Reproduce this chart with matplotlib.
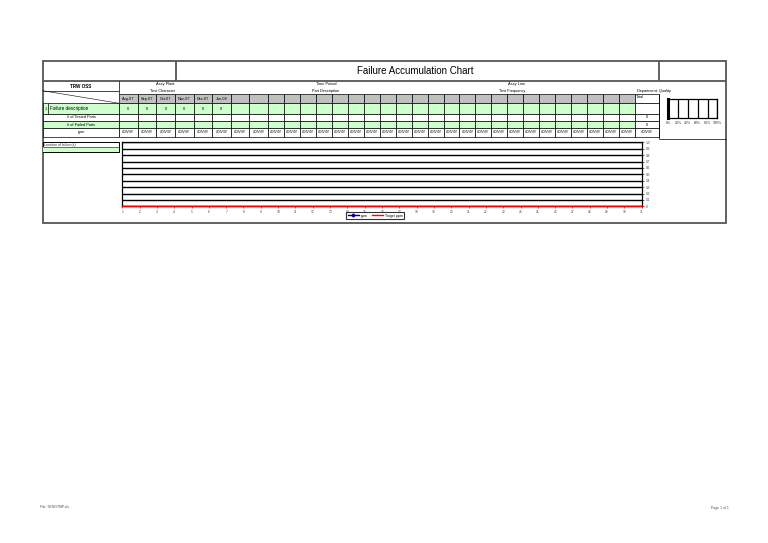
import numpy as np
import matplotlib
matplotlib.use("Agg")
import matplotlib.pyplot as plt
from matplotlib.patches import Rectangle

plt.rcParams['font.family'] = ['Liberation Sans', 'DejaVu Sans']

# ---- data ----
title = "Failure Accumulation Chart"
company = "TRW OSS"
header_left = ["Assy Plant", "Test Character"]
header_mid = ["Time Period", "Part Description"]
header_right = ["Assy Line", "Test Frequency"]
department = "Department: Quality"
months = ["Aug-07", "Sep-07", "Oct-07", "Nov-07", "Dec-07", "Jan-08"] + [""] * 25
failures = [0, 0, 0, 0, 0, 0] + [None] * 25
row_labels = ["Failure description", "# of Tested Parts", "# of Failed Parts", "ppm"]
tested_total = 0
failed_total = 0
ppm_text = ["#DIV/0!"] * 31
ppm_total = "#DIV/0!"
days = list(range(1, 32))
ppm_values = [np.nan] * 31
target_ppm = [0] * 31
y_ticks = [0, 0.1, 0.2, 0.3, 0.4, 0.5, 0.6, 0.7, 0.8, 0.9, 1.0]
gauge_ticks = [0, 0.2, 0.4, 0.6, 0.8, 1.0]
gauge_labels = ["0%", "20%", "40%", "60%", "80%", "100%"]
completion = 0.0
legend_labels = ["ppm", "Target ppm"]
note_label = "Location of failure(s)"
footer_file = "File: 9ENGTMP.xls"
footer_page = "Page 1 of 1"

W, H = 768, 543
fig = plt.figure(figsize=(W / 100, H / 100), dpi=100)
bg = fig.add_axes([0, 0, 1, 1])
bg.set_xlim(0, W)
bg.set_ylim(H, 0)
bg.axis('off')


def px_axes(x0, y0, x1, y1):
    return fig.add_axes([x0 / W, 1 - y1 / H, (x1 - x0) / W, (y1 - y0) / H])


def cell(x0, y0, x1, y1, fc='none', lw=0.5, ec='black'):
    bg.add_patch(Rectangle((x0, y0), x1 - x0, y1 - y0, fc=fc, ec=ec, lw=lw))


def line(x0, y0, x1, y1, lw=0.5, c='black'):
    bg.plot([x0, x1], [y0, y1], color=c, lw=lw, solid_capstyle='butt')


small = 2.8
GREEN = '#ccffcc'
GREY = '#c0c0c0'
FRAME = '#555555'

# outer frame + title row
L, R, T, B = 42.7, 726, 60.7, 223.3
cell(L, T, R, B, lw=1.3, ec=FRAME)
line(L, 81.3, R, 81.3, lw=1.3, c=FRAME)
line(176, T, 176, 81.3, lw=1.3, c=FRAME)
line(659, T, 659, 81.3, lw=1.3, c=FRAME)
bg.text(415, 70.8, title, fontsize=7, ha='center', va='center')

# header text
bg.text(165, 83.6, header_left[0], fontsize=small, ha='center', va='center')
bg.text(162, 90.6, header_left[1], fontsize=small, ha='center', va='center')
bg.text(326, 83.6, header_mid[0], fontsize=small, ha='center', va='center')
bg.text(326, 90.6, header_mid[1], fontsize=small, ha='center', va='center')
bg.text(517, 83.6, header_right[0], fontsize=small, ha='center', va='center')
bg.text(512, 90.6, header_right[1], fontsize=small, ha='center', va='center')
bg.text(637, 90.6, department, fontsize=small, ha='left', va='center')

# left header cells
line(119, 81.3, 119, 94)
line(L, 90.7, 119, 90.7)
line(L, 90.7, 119, 103.3, lw=0.4)
bg.text(81, 86, company, fontsize=3.3, fontweight='bold', ha='center', va='center')

# table grid
col_edges = np.concatenate([np.linspace(119, 268, 9), np.linspace(268, 635, 24)[1:]])
row_edges = [94, 103.3, 114, 121, 128, 136.7]
tot0, tot1 = 635, 659
row_fill = [None, GREEN, None, GREEN, None]

for r in range(5):
    y0, y1 = row_edges[r], row_edges[r + 1]
    yc = (y0 + y1) / 2
    if r > 0:
        cell(L, y0, 119, y1, fc=row_fill[r] or 'white')
    for c in range(31):
        x0, x1 = col_edges[c], col_edges[c + 1]
        fc = GREY if r == 0 else (row_fill[r] or 'white')
        cell(x0, y0, x1, y1, fc=fc)
        xc = (x0 + x1) / 2
        if r == 0 and months[c]:
            bg.text(xc, yc, months[c], fontsize=small, ha='center', va='center')
        if r == 1 and failures[c] is not None:
            bg.text(xc, yc, str(failures[c]), fontsize=small, ha='center', va='center')
        if r == 4:
            bg.text(xc, yc, ppm_text[c], fontsize=2.5, ha='center', va='center')
    cell(tot0, y0, tot1, y1, fc='white')

bg.text(636, 96.6, "Total", fontsize=small, ha='left', va='center')
bg.text(647, 117.5, str(tested_total), fontsize=small, ha='center', va='center')
bg.text(647, 124.5, str(failed_total), fontsize=small, ha='center', va='center')
bg.text(647, 132.4, ppm_total, fontsize=2.5, ha='center', va='center')

# row labels
line(48, 103.3, 48, 114)
bg.text(45.3, 108.6, "1", fontsize=small, ha='center', va='center')
bg.text(50, 108.6, row_labels[0], fontsize=3.3, ha='left', va='center')
for r, lab in zip([2, 3, 4], row_labels[1:]):
    bg.text(81, (row_edges[r] + row_edges[r + 1]) / 2, lab,
            fontsize=small, ha='center', va='center')

# gauge cell
line(659, 94, 659, 138.5)
line(659, 138.5, R, 138.5)
gx = px_axes(668.3, 98.7, 717.3, 117.5)
gx.barh([0], [completion], color='black', height=1)
gx.set_xlim(0, 1)
gx.set_ylim(-0.5, 0.5)
gx.set_xticks(gauge_ticks)
gx.set_xticklabels(gauge_labels, fontsize=2.5, color='#333333')
gx.set_yticks([])
gx.tick_params(length=0, pad=2.5)
gx.xaxis.grid(True, color='black', lw=0.9)
for s in gx.spines.values():
    s.set_linewidth(0.9)
gx.spines['left'].set_linewidth(2.2)

# small note box on the left
cell(L, 142.3, 119, 152, lw=0.7)
bg.add_patch(Rectangle((L + 0.5, 147.3), 119 - L - 1, 4.2, fc=GREEN, ec='none'))
line(L, 147.3, 119, 147.3, lw=0.4)
bg.text(44, 144.6, note_label, fontsize=2.5, ha='left', va='center', color='#333333')

# accumulation chart
ax = px_axes(122.3, 142.3, 641.7, 206.3)
ax.plot(days, ppm_values, color='#000080', marker='D', markersize=1.5, lw=1, label=legend_labels[0])
ax.plot(days, target_ppm, color='red', lw=1, clip_on=False, zorder=5, label=legend_labels[1])
ax.set_xlim(1, 31)
ax.set_ylim(0, 1)
ax.set_xticks(days)
ax.set_xticklabels([str(d) for d in days], fontsize=2.3, color='#444444')
ax.yaxis.tick_right()
ax.set_yticks(y_ticks)
ax.set_yticklabels([str(v) for v in y_ticks], fontsize=2.3, color='#444444')
ax.tick_params(length=1.5, width=0.4, pad=1.5)
ax.yaxis.grid(True, color='black', lw=1.0)
ax.set_axisbelow(True)
for s in ax.spines.values():
    s.set_linewidth(0.9)
    s.set_color('black')
ax.legend(loc='center', bbox_to_anchor=(375.3 / W, 1 - 215.6 / H), bbox_transform=fig.transFigure,
          ncol=2, fontsize=2.5, frameon=True, fancybox=False, edgecolor='black',
          handlelength=3, columnspacing=1.5, borderpad=0.5, handletextpad=0.5).get_frame().set_linewidth(0.8)

# footer
bg.text(40, 507.5, footer_file, fontsize=2.5, ha='left', va='center', color='#555555')
bg.text(729, 507.5, footer_page, fontsize=2.5, ha='right', va='center', color='#555555')

fig.savefig("out.png", dpi=100)
